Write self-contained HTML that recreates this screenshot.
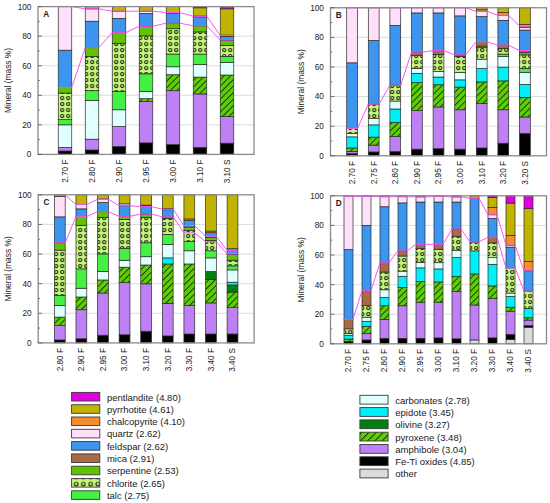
<!DOCTYPE html>
<html><head><meta charset="utf-8"><style>
html,body{margin:0;padding:0;background:#fff;}
body{width:550px;height:503px;overflow:hidden;font-family:"Liberation Sans", sans-serif;}
svg{display:block;}
text{fill:#1a1a1a;}
</style></head><body>
<svg width="550" height="503" viewBox="0 0 550 503" font-family='"Liberation Sans", sans-serif' fill="#000">
<defs>
<pattern id="chl" patternUnits="userSpaceOnUse" width="6" height="6" x="5.25" y="5">
<rect width="6" height="6" fill="#c4f67a"/>
<circle cx="3" cy="3" r="1.6" fill="none" stroke="#1c2410" stroke-width="1.05"/>
</pattern>
<pattern id="chlL" patternUnits="userSpaceOnUse" width="7.2" height="7.2" x="72.6" y="480.5">
<rect width="7.2" height="7.2" fill="#c4f67a"/>
<circle cx="3.6" cy="3.6" r="1.8" fill="none" stroke="#1c2410" stroke-width="1.1"/>
</pattern>
<pattern id="pyx" patternUnits="userSpaceOnUse" width="4.6" height="4.6" patternTransform="rotate(-45)">
<rect width="4.6" height="4.6" fill="#5ccf08"/>
<line x1="0" y1="0.5" x2="4.6" y2="0.5" stroke="#1a3000" stroke-width="0.9"/>
</pattern>
<pattern id="pyxL" patternUnits="userSpaceOnUse" width="5.1" height="5.1" patternTransform="rotate(-45)">
<rect width="5.1" height="5.1" fill="#5ccf08"/>
<line x1="0" y1="0.5" x2="5.1" y2="0.5" stroke="#1a3000" stroke-width="1.0"/>
</pattern>
</defs>
<line x1="38" y1="124.84" x2="254" y2="124.84" stroke="#dcdcdc" stroke-width="1"/>
<line x1="38" y1="95.28" x2="254" y2="95.28" stroke="#dcdcdc" stroke-width="1"/>
<line x1="38" y1="65.72" x2="254" y2="65.72" stroke="#dcdcdc" stroke-width="1"/>
<line x1="38" y1="36.16" x2="254" y2="36.16" stroke="#dcdcdc" stroke-width="1"/>
<rect x="58.25" y="151" width="13.5" height="3.4" fill="#000000" stroke="#2a2a2a" stroke-width="0.7"/>
<rect x="58.25" y="147.45" width="13.5" height="3.55" fill="#bf80f5" stroke="#2a2a2a" stroke-width="0.7"/>
<rect x="58.25" y="124.84" width="13.5" height="22.61" fill="#e0ffff" stroke="#2a2a2a" stroke-width="0.7"/>
<rect x="58.25" y="119.67" width="13.5" height="5.17" fill="#44f044" stroke="#2a2a2a" stroke-width="0.7"/>
<rect x="58.25" y="93.06" width="13.5" height="26.6" fill="url(#chl)" stroke="#2a2a2a" stroke-width="0.7"/>
<rect x="58.25" y="87.45" width="13.5" height="5.62" fill="#60c200" stroke="#2a2a2a" stroke-width="0.7"/>
<rect x="58.25" y="50.2" width="13.5" height="37.25" fill="#3c96f0" stroke="#2a2a2a" stroke-width="0.7"/>
<rect x="58.25" y="6.6" width="13.5" height="43.6" fill="#ffe0fa" stroke="#2a2a2a" stroke-width="0.7"/>
<rect x="85.25" y="149.97" width="13.5" height="4.43" fill="#000000" stroke="#2a2a2a" stroke-width="0.7"/>
<rect x="85.25" y="139.18" width="13.5" height="10.79" fill="#bf80f5" stroke="#2a2a2a" stroke-width="0.7"/>
<rect x="85.25" y="100.6" width="13.5" height="38.58" fill="#e0ffff" stroke="#2a2a2a" stroke-width="0.7"/>
<rect x="85.25" y="90.7" width="13.5" height="9.9" fill="#44f044" stroke="#2a2a2a" stroke-width="0.7"/>
<rect x="85.25" y="56.41" width="13.5" height="34.29" fill="url(#chl)" stroke="#2a2a2a" stroke-width="0.7"/>
<rect x="85.25" y="47.69" width="13.5" height="8.72" fill="#60c200" stroke="#2a2a2a" stroke-width="0.7"/>
<rect x="85.25" y="21.23" width="13.5" height="26.46" fill="#3c96f0" stroke="#2a2a2a" stroke-width="0.7"/>
<rect x="85.25" y="8.82" width="13.5" height="12.42" fill="#ffe0fa" stroke="#2a2a2a" stroke-width="0.7"/>
<rect x="85.25" y="6.6" width="13.5" height="2.22" fill="#c0b400" stroke="#2a2a2a" stroke-width="0.7"/>
<rect x="112.25" y="146.57" width="13.5" height="7.83" fill="#000000" stroke="#2a2a2a" stroke-width="0.7"/>
<rect x="112.25" y="126.47" width="13.5" height="20.1" fill="#bf80f5" stroke="#2a2a2a" stroke-width="0.7"/>
<rect x="112.25" y="109.76" width="13.5" height="16.7" fill="#e0ffff" stroke="#2a2a2a" stroke-width="0.7"/>
<rect x="112.25" y="91.44" width="13.5" height="18.33" fill="#44f044" stroke="#2a2a2a" stroke-width="0.7"/>
<rect x="112.25" y="43.25" width="13.5" height="48.18" fill="url(#chl)" stroke="#2a2a2a" stroke-width="0.7"/>
<rect x="112.25" y="32.61" width="13.5" height="10.64" fill="#60c200" stroke="#2a2a2a" stroke-width="0.7"/>
<rect x="112.25" y="18.42" width="13.5" height="14.19" fill="#3c96f0" stroke="#2a2a2a" stroke-width="0.7"/>
<rect x="112.25" y="11.18" width="13.5" height="7.24" fill="#ffe0fa" stroke="#2a2a2a" stroke-width="0.7"/>
<rect x="112.25" y="6.6" width="13.5" height="4.58" fill="#c0b400" stroke="#2a2a2a" stroke-width="0.7"/>
<rect x="139.25" y="142.87" width="13.5" height="11.53" fill="#000000" stroke="#2a2a2a" stroke-width="0.7"/>
<rect x="139.25" y="101.49" width="13.5" height="41.38" fill="#bf80f5" stroke="#2a2a2a" stroke-width="0.7"/>
<rect x="139.25" y="98.68" width="13.5" height="2.81" fill="url(#pyx)" stroke="#2a2a2a" stroke-width="0.7"/>
<rect x="139.25" y="91.44" width="13.5" height="7.24" fill="#e0ffff" stroke="#2a2a2a" stroke-width="0.7"/>
<rect x="139.25" y="73.85" width="13.5" height="17.59" fill="#44f044" stroke="#2a2a2a" stroke-width="0.7"/>
<rect x="139.25" y="35.86" width="13.5" height="37.98" fill="url(#chl)" stroke="#2a2a2a" stroke-width="0.7"/>
<rect x="139.25" y="26.26" width="13.5" height="9.61" fill="#60c200" stroke="#2a2a2a" stroke-width="0.7"/>
<rect x="139.25" y="13.55" width="13.5" height="12.71" fill="#3c96f0" stroke="#2a2a2a" stroke-width="0.7"/>
<rect x="139.25" y="11.18" width="13.5" height="2.36" fill="#ffe0fa" stroke="#2a2a2a" stroke-width="0.7"/>
<rect x="139.25" y="6.6" width="13.5" height="4.58" fill="#c0b400" stroke="#2a2a2a" stroke-width="0.7"/>
<rect x="166.25" y="144.65" width="13.5" height="9.75" fill="#000000" stroke="#2a2a2a" stroke-width="0.7"/>
<rect x="166.25" y="90.7" width="13.5" height="53.95" fill="#bf80f5" stroke="#2a2a2a" stroke-width="0.7"/>
<rect x="166.25" y="74.74" width="13.5" height="15.96" fill="url(#pyx)" stroke="#2a2a2a" stroke-width="0.7"/>
<rect x="166.25" y="66.75" width="13.5" height="7.98" fill="#e0ffff" stroke="#2a2a2a" stroke-width="0.7"/>
<rect x="166.25" y="54.04" width="13.5" height="12.71" fill="#44f044" stroke="#2a2a2a" stroke-width="0.7"/>
<rect x="166.25" y="28.77" width="13.5" height="25.27" fill="url(#chl)" stroke="#2a2a2a" stroke-width="0.7"/>
<rect x="166.25" y="23.15" width="13.5" height="5.62" fill="#60c200" stroke="#2a2a2a" stroke-width="0.7"/>
<rect x="166.25" y="13.1" width="13.5" height="10.05" fill="#3c96f0" stroke="#2a2a2a" stroke-width="0.7"/>
<rect x="166.25" y="12.51" width="13.5" height="0.59" fill="#ffe0fa" stroke="#2a2a2a" stroke-width="0.7"/>
<rect x="166.25" y="6.6" width="13.5" height="5.91" fill="#c0b400" stroke="#2a2a2a" stroke-width="0.7"/>
<rect x="193.25" y="147.45" width="13.5" height="6.95" fill="#000000" stroke="#2a2a2a" stroke-width="0.7"/>
<rect x="193.25" y="93.95" width="13.5" height="53.5" fill="#bf80f5" stroke="#2a2a2a" stroke-width="0.7"/>
<rect x="193.25" y="77.1" width="13.5" height="16.85" fill="url(#pyx)" stroke="#2a2a2a" stroke-width="0.7"/>
<rect x="193.25" y="64.39" width="13.5" height="12.71" fill="#e0ffff" stroke="#2a2a2a" stroke-width="0.7"/>
<rect x="193.25" y="54.04" width="13.5" height="10.35" fill="#44f044" stroke="#2a2a2a" stroke-width="0.7"/>
<rect x="193.25" y="31.87" width="13.5" height="22.17" fill="url(#chl)" stroke="#2a2a2a" stroke-width="0.7"/>
<rect x="193.25" y="25.81" width="13.5" height="6.06" fill="#60c200" stroke="#2a2a2a" stroke-width="0.7"/>
<rect x="193.25" y="16.8" width="13.5" height="9.02" fill="#3c96f0" stroke="#2a2a2a" stroke-width="0.7"/>
<rect x="193.25" y="16.06" width="13.5" height="0.74" fill="#ffe0fa" stroke="#2a2a2a" stroke-width="0.7"/>
<rect x="193.25" y="7.78" width="13.5" height="8.28" fill="#c0b400" stroke="#2a2a2a" stroke-width="0.7"/>
<rect x="193.25" y="6.6" width="13.5" height="1.18" fill="#e000e0" stroke="#2a2a2a" stroke-width="0.7"/>
<rect x="220.25" y="143.17" width="13.5" height="11.23" fill="#000000" stroke="#2a2a2a" stroke-width="0.7"/>
<rect x="220.25" y="116.56" width="13.5" height="26.6" fill="#bf80f5" stroke="#2a2a2a" stroke-width="0.7"/>
<rect x="220.25" y="75.03" width="13.5" height="41.53" fill="url(#pyx)" stroke="#2a2a2a" stroke-width="0.7"/>
<rect x="220.25" y="62.32" width="13.5" height="12.71" fill="#e0ffff" stroke="#2a2a2a" stroke-width="0.7"/>
<rect x="220.25" y="56.41" width="13.5" height="5.91" fill="#44f044" stroke="#2a2a2a" stroke-width="0.7"/>
<rect x="220.25" y="45.32" width="13.5" height="11.08" fill="url(#chl)" stroke="#2a2a2a" stroke-width="0.7"/>
<rect x="220.25" y="40.3" width="13.5" height="5.03" fill="#60c200" stroke="#2a2a2a" stroke-width="0.7"/>
<rect x="220.25" y="36.6" width="13.5" height="3.7" fill="#3c96f0" stroke="#2a2a2a" stroke-width="0.7"/>
<rect x="220.25" y="35.13" width="13.5" height="1.48" fill="#f88c30" stroke="#2a2a2a" stroke-width="0.7"/>
<rect x="220.25" y="8.82" width="13.5" height="26.31" fill="#c0b400" stroke="#2a2a2a" stroke-width="0.7"/>
<rect x="220.25" y="6.6" width="13.5" height="2.22" fill="#e000e0" stroke="#2a2a2a" stroke-width="0.7"/>
<polyline points="58.25,6.6 71.75,6.6 85.25,8.82 98.75,8.82 112.25,11.18 125.75,11.18 139.25,11.18 152.75,11.18 166.25,12.51 179.75,12.51 193.25,16.35 206.75,16.35 220.25,35.42 233.75,35.42" fill="none" stroke="#ff50ff" stroke-width="1.0"/>
<polyline points="58.25,87.45 71.75,87.45 85.25,47.69 98.75,47.69 112.25,32.61 125.75,32.61 139.25,26.26 152.75,26.26 166.25,23.15 179.75,23.15 193.25,25.81 206.75,25.81 220.25,40 233.75,40" fill="none" stroke="#ff50ff" stroke-width="1.0"/>
<rect x="38" y="6.6" width="216" height="147.8" fill="none" stroke="#8a8a8a" stroke-width="1.3"/>
<line x1="38" y1="154.4" x2="42" y2="154.4" stroke="#555" stroke-width="0.8"/>
<text x="31.4" y="157.3" font-size="8.2" text-anchor="end">0</text>
<line x1="38" y1="139.62" x2="39.8" y2="139.62" stroke="#555" stroke-width="0.8"/>
<line x1="38" y1="124.84" x2="42" y2="124.84" stroke="#555" stroke-width="0.8"/>
<text x="31.4" y="127.74" font-size="8.2" text-anchor="end">20</text>
<line x1="38" y1="110.06" x2="39.8" y2="110.06" stroke="#555" stroke-width="0.8"/>
<line x1="38" y1="95.28" x2="42" y2="95.28" stroke="#555" stroke-width="0.8"/>
<text x="31.4" y="98.18" font-size="8.2" text-anchor="end">40</text>
<line x1="38" y1="80.5" x2="39.8" y2="80.5" stroke="#555" stroke-width="0.8"/>
<line x1="38" y1="65.72" x2="42" y2="65.72" stroke="#555" stroke-width="0.8"/>
<text x="31.4" y="68.62" font-size="8.2" text-anchor="end">60</text>
<line x1="38" y1="50.94" x2="39.8" y2="50.94" stroke="#555" stroke-width="0.8"/>
<line x1="38" y1="36.16" x2="42" y2="36.16" stroke="#555" stroke-width="0.8"/>
<text x="31.4" y="39.06" font-size="8.2" text-anchor="end">80</text>
<line x1="38" y1="21.38" x2="39.8" y2="21.38" stroke="#555" stroke-width="0.8"/>
<line x1="38" y1="6.6" x2="42" y2="6.6" stroke="#555" stroke-width="0.8"/>
<text x="31.4" y="9.5" font-size="8.2" text-anchor="end">100</text>
<text transform="translate(67.9,159.6) rotate(-90)" font-size="8.2" text-anchor="end">2.70 F</text>
<text transform="translate(94.9,159.6) rotate(-90)" font-size="8.2" text-anchor="end">2.80 F</text>
<text transform="translate(121.9,159.6) rotate(-90)" font-size="8.2" text-anchor="end">2.90 F</text>
<text transform="translate(148.9,159.6) rotate(-90)" font-size="8.2" text-anchor="end">2.95 F</text>
<text transform="translate(175.9,159.6) rotate(-90)" font-size="8.2" text-anchor="end">3.00 F</text>
<text transform="translate(202.9,159.6) rotate(-90)" font-size="8.2" text-anchor="end">3.10 F</text>
<text transform="translate(229.9,159.6) rotate(-90)" font-size="8.2" text-anchor="end">3.10 S</text>
<text x="43.2" y="16.9" font-size="8.2" font-weight="bold">A</text>
<text transform="translate(11.1,80.5) rotate(-90)" font-size="8.4" text-anchor="middle">Mineral (mass %)</text>
<line x1="330.5" y1="126.19" x2="546.5" y2="126.19" stroke="#dcdcdc" stroke-width="1"/>
<line x1="330.5" y1="96.58" x2="546.5" y2="96.58" stroke="#dcdcdc" stroke-width="1"/>
<line x1="330.5" y1="66.97" x2="546.5" y2="66.97" stroke="#dcdcdc" stroke-width="1"/>
<line x1="330.5" y1="37.36" x2="546.5" y2="37.36" stroke="#dcdcdc" stroke-width="1"/>
<rect x="346.7" y="153.43" width="10.8" height="2.37" fill="#000000" stroke="#2a2a2a" stroke-width="0.7"/>
<rect x="346.7" y="151.51" width="10.8" height="1.92" fill="#bf80f5" stroke="#2a2a2a" stroke-width="0.7"/>
<rect x="346.7" y="147.95" width="10.8" height="3.55" fill="url(#pyx)" stroke="#2a2a2a" stroke-width="0.7"/>
<rect x="346.7" y="136.85" width="10.8" height="11.1" fill="#00f0f8" stroke="#2a2a2a" stroke-width="0.7"/>
<rect x="346.7" y="133.59" width="10.8" height="3.26" fill="#e0ffff" stroke="#2a2a2a" stroke-width="0.7"/>
<rect x="346.7" y="128.56" width="10.8" height="5.03" fill="url(#chl)" stroke="#2a2a2a" stroke-width="0.7"/>
<rect x="346.7" y="62.82" width="10.8" height="65.73" fill="#3c96f0" stroke="#2a2a2a" stroke-width="0.7"/>
<rect x="346.7" y="7.75" width="10.8" height="55.07" fill="#ffe0fa" stroke="#2a2a2a" stroke-width="0.7"/>
<rect x="368.3" y="151.95" width="10.8" height="3.85" fill="#000000" stroke="#2a2a2a" stroke-width="0.7"/>
<rect x="368.3" y="145.14" width="10.8" height="6.81" fill="#bf80f5" stroke="#2a2a2a" stroke-width="0.7"/>
<rect x="368.3" y="137.15" width="10.8" height="7.99" fill="url(#pyx)" stroke="#2a2a2a" stroke-width="0.7"/>
<rect x="368.3" y="124.86" width="10.8" height="12.29" fill="#00f0f8" stroke="#2a2a2a" stroke-width="0.7"/>
<rect x="368.3" y="118.49" width="10.8" height="6.37" fill="#e0ffff" stroke="#2a2a2a" stroke-width="0.7"/>
<rect x="368.3" y="104.13" width="10.8" height="14.36" fill="url(#chl)" stroke="#2a2a2a" stroke-width="0.7"/>
<rect x="368.3" y="40.47" width="10.8" height="63.66" fill="#3c96f0" stroke="#2a2a2a" stroke-width="0.7"/>
<rect x="368.3" y="7.75" width="10.8" height="32.72" fill="#ffe0fa" stroke="#2a2a2a" stroke-width="0.7"/>
<rect x="389.9" y="151.51" width="10.8" height="4.29" fill="#000000" stroke="#2a2a2a" stroke-width="0.7"/>
<rect x="389.9" y="136.55" width="10.8" height="14.95" fill="#bf80f5" stroke="#2a2a2a" stroke-width="0.7"/>
<rect x="389.9" y="122.49" width="10.8" height="14.06" fill="url(#pyx)" stroke="#2a2a2a" stroke-width="0.7"/>
<rect x="389.9" y="109.02" width="10.8" height="13.47" fill="#00f0f8" stroke="#2a2a2a" stroke-width="0.7"/>
<rect x="389.9" y="101.02" width="10.8" height="7.99" fill="#e0ffff" stroke="#2a2a2a" stroke-width="0.7"/>
<rect x="389.9" y="85.18" width="10.8" height="15.84" fill="url(#chl)" stroke="#2a2a2a" stroke-width="0.7"/>
<rect x="389.9" y="25.37" width="10.8" height="59.81" fill="#3c96f0" stroke="#2a2a2a" stroke-width="0.7"/>
<rect x="389.9" y="7.75" width="10.8" height="17.62" fill="#ffe0fa" stroke="#2a2a2a" stroke-width="0.7"/>
<rect x="411.5" y="149.14" width="10.8" height="6.66" fill="#000000" stroke="#2a2a2a" stroke-width="0.7"/>
<rect x="411.5" y="110.64" width="10.8" height="38.49" fill="#bf80f5" stroke="#2a2a2a" stroke-width="0.7"/>
<rect x="411.5" y="82.52" width="10.8" height="28.13" fill="url(#pyx)" stroke="#2a2a2a" stroke-width="0.7"/>
<rect x="411.5" y="73.34" width="10.8" height="9.18" fill="#00f0f8" stroke="#2a2a2a" stroke-width="0.7"/>
<rect x="411.5" y="68.45" width="10.8" height="4.89" fill="#e0ffff" stroke="#2a2a2a" stroke-width="0.7"/>
<rect x="411.5" y="55.57" width="10.8" height="12.88" fill="url(#chl)" stroke="#2a2a2a" stroke-width="0.7"/>
<rect x="411.5" y="52.17" width="10.8" height="3.41" fill="#a86a48" stroke="#2a2a2a" stroke-width="0.7"/>
<rect x="411.5" y="12.93" width="10.8" height="39.23" fill="#3c96f0" stroke="#2a2a2a" stroke-width="0.7"/>
<rect x="411.5" y="7.75" width="10.8" height="5.18" fill="#ffe0fa" stroke="#2a2a2a" stroke-width="0.7"/>
<rect x="433.1" y="148.69" width="10.8" height="7.11" fill="#000000" stroke="#2a2a2a" stroke-width="0.7"/>
<rect x="433.1" y="106.94" width="10.8" height="41.75" fill="#bf80f5" stroke="#2a2a2a" stroke-width="0.7"/>
<rect x="433.1" y="84.74" width="10.8" height="22.21" fill="url(#pyx)" stroke="#2a2a2a" stroke-width="0.7"/>
<rect x="433.1" y="77.04" width="10.8" height="7.7" fill="#00f0f8" stroke="#2a2a2a" stroke-width="0.7"/>
<rect x="433.1" y="71.41" width="10.8" height="5.63" fill="#e0ffff" stroke="#2a2a2a" stroke-width="0.7"/>
<rect x="433.1" y="54.39" width="10.8" height="17.03" fill="url(#chl)" stroke="#2a2a2a" stroke-width="0.7"/>
<rect x="433.1" y="50.68" width="10.8" height="3.7" fill="#a86a48" stroke="#2a2a2a" stroke-width="0.7"/>
<rect x="433.1" y="12.93" width="10.8" height="37.75" fill="#3c96f0" stroke="#2a2a2a" stroke-width="0.7"/>
<rect x="433.1" y="7.75" width="10.8" height="5.18" fill="#ffe0fa" stroke="#2a2a2a" stroke-width="0.7"/>
<rect x="454.7" y="149.14" width="10.8" height="6.66" fill="#000000" stroke="#2a2a2a" stroke-width="0.7"/>
<rect x="454.7" y="109.76" width="10.8" height="39.38" fill="#bf80f5" stroke="#2a2a2a" stroke-width="0.7"/>
<rect x="454.7" y="87.1" width="10.8" height="22.65" fill="url(#pyx)" stroke="#2a2a2a" stroke-width="0.7"/>
<rect x="454.7" y="79.85" width="10.8" height="7.25" fill="#00f0f8" stroke="#2a2a2a" stroke-width="0.7"/>
<rect x="454.7" y="72.3" width="10.8" height="7.55" fill="#e0ffff" stroke="#2a2a2a" stroke-width="0.7"/>
<rect x="454.7" y="56.46" width="10.8" height="15.84" fill="url(#chl)" stroke="#2a2a2a" stroke-width="0.7"/>
<rect x="454.7" y="54.83" width="10.8" height="1.63" fill="#a86a48" stroke="#2a2a2a" stroke-width="0.7"/>
<rect x="454.7" y="15.89" width="10.8" height="38.94" fill="#3c96f0" stroke="#2a2a2a" stroke-width="0.7"/>
<rect x="454.7" y="7.75" width="10.8" height="8.14" fill="#ffe0fa" stroke="#2a2a2a" stroke-width="0.7"/>
<rect x="476.3" y="147.95" width="10.8" height="7.85" fill="#000000" stroke="#2a2a2a" stroke-width="0.7"/>
<rect x="476.3" y="103.39" width="10.8" height="44.56" fill="#bf80f5" stroke="#2a2a2a" stroke-width="0.7"/>
<rect x="476.3" y="81.92" width="10.8" height="21.47" fill="url(#pyx)" stroke="#2a2a2a" stroke-width="0.7"/>
<rect x="476.3" y="68.6" width="10.8" height="13.32" fill="#00f0f8" stroke="#2a2a2a" stroke-width="0.7"/>
<rect x="476.3" y="59.12" width="10.8" height="9.48" fill="#e0ffff" stroke="#2a2a2a" stroke-width="0.7"/>
<rect x="476.3" y="47.72" width="10.8" height="11.4" fill="url(#chl)" stroke="#2a2a2a" stroke-width="0.7"/>
<rect x="476.3" y="46.09" width="10.8" height="1.63" fill="#60c200" stroke="#2a2a2a" stroke-width="0.7"/>
<rect x="476.3" y="41.65" width="10.8" height="4.44" fill="#a86a48" stroke="#2a2a2a" stroke-width="0.7"/>
<rect x="476.3" y="16.63" width="10.8" height="25.02" fill="#3c96f0" stroke="#2a2a2a" stroke-width="0.7"/>
<rect x="476.3" y="11.45" width="10.8" height="5.18" fill="#ffe0fa" stroke="#2a2a2a" stroke-width="0.7"/>
<rect x="476.3" y="9.82" width="10.8" height="1.63" fill="#f88c30" stroke="#2a2a2a" stroke-width="0.7"/>
<rect x="476.3" y="7.75" width="10.8" height="2.07" fill="#c0b400" stroke="#2a2a2a" stroke-width="0.7"/>
<rect x="497.9" y="143.22" width="10.8" height="12.58" fill="#000000" stroke="#2a2a2a" stroke-width="0.7"/>
<rect x="497.9" y="109.76" width="10.8" height="33.46" fill="#bf80f5" stroke="#2a2a2a" stroke-width="0.7"/>
<rect x="497.9" y="80.89" width="10.8" height="28.87" fill="url(#pyx)" stroke="#2a2a2a" stroke-width="0.7"/>
<rect x="497.9" y="67.12" width="10.8" height="13.77" fill="#00f0f8" stroke="#2a2a2a" stroke-width="0.7"/>
<rect x="497.9" y="56.46" width="10.8" height="10.66" fill="#e0ffff" stroke="#2a2a2a" stroke-width="0.7"/>
<rect x="497.9" y="54.09" width="10.8" height="2.37" fill="#44f044" stroke="#2a2a2a" stroke-width="0.7"/>
<rect x="497.9" y="48.46" width="10.8" height="5.63" fill="url(#chl)" stroke="#2a2a2a" stroke-width="0.7"/>
<rect x="497.9" y="45.21" width="10.8" height="3.26" fill="#a86a48" stroke="#2a2a2a" stroke-width="0.7"/>
<rect x="497.9" y="20.33" width="10.8" height="24.87" fill="#3c96f0" stroke="#2a2a2a" stroke-width="0.7"/>
<rect x="497.9" y="15.3" width="10.8" height="5.03" fill="#ffe0fa" stroke="#2a2a2a" stroke-width="0.7"/>
<rect x="497.9" y="12.64" width="10.8" height="2.66" fill="#f88c30" stroke="#2a2a2a" stroke-width="0.7"/>
<rect x="497.9" y="7.75" width="10.8" height="4.89" fill="#c0b400" stroke="#2a2a2a" stroke-width="0.7"/>
<rect x="519.5" y="133.3" width="10.8" height="22.5" fill="#000000" stroke="#2a2a2a" stroke-width="0.7"/>
<rect x="519.5" y="117.01" width="10.8" height="16.29" fill="#bf80f5" stroke="#2a2a2a" stroke-width="0.7"/>
<rect x="519.5" y="97.32" width="10.8" height="19.69" fill="url(#pyx)" stroke="#2a2a2a" stroke-width="0.7"/>
<rect x="519.5" y="84.44" width="10.8" height="12.88" fill="#00f0f8" stroke="#2a2a2a" stroke-width="0.7"/>
<rect x="519.5" y="72.3" width="10.8" height="12.14" fill="#e0ffff" stroke="#2a2a2a" stroke-width="0.7"/>
<rect x="519.5" y="68.45" width="10.8" height="3.85" fill="#44f044" stroke="#2a2a2a" stroke-width="0.7"/>
<rect x="519.5" y="54.83" width="10.8" height="13.62" fill="url(#chl)" stroke="#2a2a2a" stroke-width="0.7"/>
<rect x="519.5" y="52.46" width="10.8" height="2.37" fill="#60c200" stroke="#2a2a2a" stroke-width="0.7"/>
<rect x="519.5" y="50.54" width="10.8" height="1.92" fill="#a86a48" stroke="#2a2a2a" stroke-width="0.7"/>
<rect x="519.5" y="30.11" width="10.8" height="20.43" fill="#3c96f0" stroke="#2a2a2a" stroke-width="0.7"/>
<rect x="519.5" y="27.29" width="10.8" height="2.81" fill="#ffe0fa" stroke="#2a2a2a" stroke-width="0.7"/>
<rect x="519.5" y="24.63" width="10.8" height="2.66" fill="#f88c30" stroke="#2a2a2a" stroke-width="0.7"/>
<rect x="519.5" y="7.75" width="10.8" height="16.88" fill="#c0b400" stroke="#2a2a2a" stroke-width="0.7"/>
<polyline points="346.7,7.75 357.5,7.75 368.3,7.75 379.1,7.75 389.9,7.75 400.7,7.75 411.5,7.75 422.3,7.75 433.1,7.75 443.9,7.75 454.7,7.75 465.5,7.75 476.3,11.45 487.1,11.45 497.9,15.3 508.7,15.3 519.5,26.11 530.3,26.11" fill="none" stroke="#ff50ff" stroke-width="1.0"/>
<polyline points="346.7,128.56 357.5,128.56 368.3,104.13 379.1,104.13 389.9,85.18 400.7,85.18 411.5,52.17 422.3,52.17 433.1,50.68 443.9,50.68 454.7,54.83 465.5,54.83 476.3,41.65 487.1,41.65 497.9,45.21 508.7,45.21 519.5,50.54 530.3,50.54" fill="none" stroke="#ff50ff" stroke-width="1.0"/>
<rect x="330.5" y="7.75" width="216" height="148.05" fill="none" stroke="#8a8a8a" stroke-width="1.3"/>
<line x1="330.5" y1="155.8" x2="334.5" y2="155.8" stroke="#555" stroke-width="0.8"/>
<text x="323.9" y="158.7" font-size="8.2" text-anchor="end">0</text>
<line x1="330.5" y1="141" x2="332.3" y2="141" stroke="#555" stroke-width="0.8"/>
<line x1="330.5" y1="126.19" x2="334.5" y2="126.19" stroke="#555" stroke-width="0.8"/>
<text x="323.9" y="129.09" font-size="8.2" text-anchor="end">20</text>
<line x1="330.5" y1="111.39" x2="332.3" y2="111.39" stroke="#555" stroke-width="0.8"/>
<line x1="330.5" y1="96.58" x2="334.5" y2="96.58" stroke="#555" stroke-width="0.8"/>
<text x="323.9" y="99.48" font-size="8.2" text-anchor="end">40</text>
<line x1="330.5" y1="81.78" x2="332.3" y2="81.78" stroke="#555" stroke-width="0.8"/>
<line x1="330.5" y1="66.97" x2="334.5" y2="66.97" stroke="#555" stroke-width="0.8"/>
<text x="323.9" y="69.87" font-size="8.2" text-anchor="end">60</text>
<line x1="330.5" y1="52.17" x2="332.3" y2="52.17" stroke="#555" stroke-width="0.8"/>
<line x1="330.5" y1="37.36" x2="334.5" y2="37.36" stroke="#555" stroke-width="0.8"/>
<text x="323.9" y="40.26" font-size="8.2" text-anchor="end">80</text>
<line x1="330.5" y1="22.56" x2="332.3" y2="22.56" stroke="#555" stroke-width="0.8"/>
<line x1="330.5" y1="7.75" x2="334.5" y2="7.75" stroke="#555" stroke-width="0.8"/>
<text x="323.9" y="10.65" font-size="8.2" text-anchor="end">100</text>
<text transform="translate(355,161) rotate(-90)" font-size="8.2" text-anchor="end">2.70 F</text>
<text transform="translate(376.6,161) rotate(-90)" font-size="8.2" text-anchor="end">2.75 F</text>
<text transform="translate(398.2,161) rotate(-90)" font-size="8.2" text-anchor="end">2.80 F</text>
<text transform="translate(419.8,161) rotate(-90)" font-size="8.2" text-anchor="end">2.90 F</text>
<text transform="translate(441.4,161) rotate(-90)" font-size="8.2" text-anchor="end">2.95 F</text>
<text transform="translate(463,161) rotate(-90)" font-size="8.2" text-anchor="end">3.00 F</text>
<text transform="translate(484.6,161) rotate(-90)" font-size="8.2" text-anchor="end">3.10 F</text>
<text transform="translate(506.2,161) rotate(-90)" font-size="8.2" text-anchor="end">3.20 F</text>
<text transform="translate(527.8,161) rotate(-90)" font-size="8.2" text-anchor="end">3.20 S</text>
<text x="335.7" y="18.05" font-size="8.2" font-weight="bold">B</text>
<text transform="translate(303.6,81.78) rotate(-90)" font-size="8.4" text-anchor="middle">Mineral (mass %)</text>
<line x1="38.2" y1="313.28" x2="254.1" y2="313.28" stroke="#dcdcdc" stroke-width="1"/>
<line x1="38.2" y1="283.66" x2="254.1" y2="283.66" stroke="#dcdcdc" stroke-width="1"/>
<line x1="38.2" y1="254.04" x2="254.1" y2="254.04" stroke="#dcdcdc" stroke-width="1"/>
<line x1="38.2" y1="224.42" x2="254.1" y2="224.42" stroke="#dcdcdc" stroke-width="1"/>
<rect x="54.39" y="339.94" width="10.8" height="2.96" fill="#000000" stroke="#2a2a2a" stroke-width="0.7"/>
<rect x="54.39" y="325.57" width="10.8" height="14.37" fill="#bf80f5" stroke="#2a2a2a" stroke-width="0.7"/>
<rect x="54.39" y="317.13" width="10.8" height="8.44" fill="url(#pyx)" stroke="#2a2a2a" stroke-width="0.7"/>
<rect x="54.39" y="305.43" width="10.8" height="11.7" fill="#e0ffff" stroke="#2a2a2a" stroke-width="0.7"/>
<rect x="54.39" y="295.36" width="10.8" height="10.07" fill="#44f044" stroke="#2a2a2a" stroke-width="0.7"/>
<rect x="54.39" y="250.19" width="10.8" height="45.17" fill="url(#chl)" stroke="#2a2a2a" stroke-width="0.7"/>
<rect x="54.39" y="242.78" width="10.8" height="7.4" fill="#60c200" stroke="#2a2a2a" stroke-width="0.7"/>
<rect x="54.39" y="216.87" width="10.8" height="25.92" fill="#3c96f0" stroke="#2a2a2a" stroke-width="0.7"/>
<rect x="54.39" y="196.28" width="10.8" height="20.59" fill="#ffe0fa" stroke="#2a2a2a" stroke-width="0.7"/>
<rect x="54.39" y="194.8" width="10.8" height="1.48" fill="#c0b400" stroke="#2a2a2a" stroke-width="0.7"/>
<rect x="75.98" y="338.75" width="10.8" height="4.15" fill="#000000" stroke="#2a2a2a" stroke-width="0.7"/>
<rect x="75.98" y="309.73" width="10.8" height="29.03" fill="#bf80f5" stroke="#2a2a2a" stroke-width="0.7"/>
<rect x="75.98" y="296.99" width="10.8" height="12.74" fill="url(#pyx)" stroke="#2a2a2a" stroke-width="0.7"/>
<rect x="75.98" y="288.25" width="10.8" height="8.74" fill="#e0ffff" stroke="#2a2a2a" stroke-width="0.7"/>
<rect x="75.98" y="268.85" width="10.8" height="19.4" fill="#44f044" stroke="#2a2a2a" stroke-width="0.7"/>
<rect x="75.98" y="225.31" width="10.8" height="43.54" fill="url(#chl)" stroke="#2a2a2a" stroke-width="0.7"/>
<rect x="75.98" y="216.57" width="10.8" height="8.74" fill="#60c200" stroke="#2a2a2a" stroke-width="0.7"/>
<rect x="75.98" y="208.87" width="10.8" height="7.7" fill="#3c96f0" stroke="#2a2a2a" stroke-width="0.7"/>
<rect x="75.98" y="204.57" width="10.8" height="4.29" fill="#ffe0fa" stroke="#2a2a2a" stroke-width="0.7"/>
<rect x="75.98" y="194.8" width="10.8" height="9.77" fill="#c0b400" stroke="#2a2a2a" stroke-width="0.7"/>
<rect x="97.57" y="335.2" width="10.8" height="7.7" fill="#000000" stroke="#2a2a2a" stroke-width="0.7"/>
<rect x="97.57" y="292.99" width="10.8" height="42.21" fill="#bf80f5" stroke="#2a2a2a" stroke-width="0.7"/>
<rect x="97.57" y="279.96" width="10.8" height="13.03" fill="url(#pyx)" stroke="#2a2a2a" stroke-width="0.7"/>
<rect x="97.57" y="271.52" width="10.8" height="8.44" fill="#e0ffff" stroke="#2a2a2a" stroke-width="0.7"/>
<rect x="97.57" y="253.89" width="10.8" height="17.62" fill="#44f044" stroke="#2a2a2a" stroke-width="0.7"/>
<rect x="97.57" y="217.31" width="10.8" height="36.58" fill="url(#chl)" stroke="#2a2a2a" stroke-width="0.7"/>
<rect x="97.57" y="211.68" width="10.8" height="5.63" fill="#60c200" stroke="#2a2a2a" stroke-width="0.7"/>
<rect x="97.57" y="202.5" width="10.8" height="9.18" fill="#3c96f0" stroke="#2a2a2a" stroke-width="0.7"/>
<rect x="97.57" y="198.95" width="10.8" height="3.55" fill="#ffe0fa" stroke="#2a2a2a" stroke-width="0.7"/>
<rect x="97.57" y="194.8" width="10.8" height="4.15" fill="#c0b400" stroke="#2a2a2a" stroke-width="0.7"/>
<rect x="119.16" y="334.75" width="10.8" height="8.15" fill="#000000" stroke="#2a2a2a" stroke-width="0.7"/>
<rect x="119.16" y="282.62" width="10.8" height="52.13" fill="#bf80f5" stroke="#2a2a2a" stroke-width="0.7"/>
<rect x="119.16" y="267.22" width="10.8" height="15.4" fill="url(#pyx)" stroke="#2a2a2a" stroke-width="0.7"/>
<rect x="119.16" y="260.26" width="10.8" height="6.96" fill="#e0ffff" stroke="#2a2a2a" stroke-width="0.7"/>
<rect x="119.16" y="248.26" width="10.8" height="12" fill="#44f044" stroke="#2a2a2a" stroke-width="0.7"/>
<rect x="119.16" y="219.38" width="10.8" height="28.88" fill="url(#chl)" stroke="#2a2a2a" stroke-width="0.7"/>
<rect x="119.16" y="216.27" width="10.8" height="3.11" fill="#60c200" stroke="#2a2a2a" stroke-width="0.7"/>
<rect x="119.16" y="205.76" width="10.8" height="10.52" fill="#3c96f0" stroke="#2a2a2a" stroke-width="0.7"/>
<rect x="119.16" y="203.83" width="10.8" height="1.93" fill="#ffe0fa" stroke="#2a2a2a" stroke-width="0.7"/>
<rect x="119.16" y="194.8" width="10.8" height="9.03" fill="#c0b400" stroke="#2a2a2a" stroke-width="0.7"/>
<rect x="140.75" y="331.2" width="10.8" height="11.7" fill="#000000" stroke="#2a2a2a" stroke-width="0.7"/>
<rect x="140.75" y="283.81" width="10.8" height="47.39" fill="#bf80f5" stroke="#2a2a2a" stroke-width="0.7"/>
<rect x="140.75" y="265" width="10.8" height="18.81" fill="url(#pyx)" stroke="#2a2a2a" stroke-width="0.7"/>
<rect x="140.75" y="256.71" width="10.8" height="8.29" fill="#e0ffff" stroke="#2a2a2a" stroke-width="0.7"/>
<rect x="140.75" y="242.78" width="10.8" height="13.92" fill="#44f044" stroke="#2a2a2a" stroke-width="0.7"/>
<rect x="140.75" y="217.31" width="10.8" height="25.47" fill="url(#chl)" stroke="#2a2a2a" stroke-width="0.7"/>
<rect x="140.75" y="214.05" width="10.8" height="3.26" fill="#60c200" stroke="#2a2a2a" stroke-width="0.7"/>
<rect x="140.75" y="205.76" width="10.8" height="8.29" fill="#3c96f0" stroke="#2a2a2a" stroke-width="0.7"/>
<rect x="140.75" y="205.17" width="10.8" height="0.59" fill="#ffe0fa" stroke="#2a2a2a" stroke-width="0.7"/>
<rect x="140.75" y="194.8" width="10.8" height="10.37" fill="#c0b400" stroke="#2a2a2a" stroke-width="0.7"/>
<rect x="162.34" y="335.94" width="10.8" height="6.96" fill="#000000" stroke="#2a2a2a" stroke-width="0.7"/>
<rect x="162.34" y="303.36" width="10.8" height="32.58" fill="#bf80f5" stroke="#2a2a2a" stroke-width="0.7"/>
<rect x="162.34" y="263.96" width="10.8" height="39.39" fill="url(#pyx)" stroke="#2a2a2a" stroke-width="0.7"/>
<rect x="162.34" y="257.89" width="10.8" height="6.07" fill="#00f0f8" stroke="#2a2a2a" stroke-width="0.7"/>
<rect x="162.34" y="244.41" width="10.8" height="13.48" fill="#e0ffff" stroke="#2a2a2a" stroke-width="0.7"/>
<rect x="162.34" y="234.34" width="10.8" height="10.07" fill="#44f044" stroke="#2a2a2a" stroke-width="0.7"/>
<rect x="162.34" y="218.5" width="10.8" height="15.85" fill="url(#chl)" stroke="#2a2a2a" stroke-width="0.7"/>
<rect x="162.34" y="216.87" width="10.8" height="1.63" fill="#60c200" stroke="#2a2a2a" stroke-width="0.7"/>
<rect x="162.34" y="209.76" width="10.8" height="7.11" fill="#3c96f0" stroke="#2a2a2a" stroke-width="0.7"/>
<rect x="162.34" y="208.57" width="10.8" height="1.18" fill="#ffe0fa" stroke="#2a2a2a" stroke-width="0.7"/>
<rect x="162.34" y="194.8" width="10.8" height="13.77" fill="#c0b400" stroke="#2a2a2a" stroke-width="0.7"/>
<rect x="183.93" y="334.01" width="10.8" height="8.89" fill="#000000" stroke="#2a2a2a" stroke-width="0.7"/>
<rect x="183.93" y="305.43" width="10.8" height="28.58" fill="#bf80f5" stroke="#2a2a2a" stroke-width="0.7"/>
<rect x="183.93" y="263.96" width="10.8" height="41.47" fill="url(#pyx)" stroke="#2a2a2a" stroke-width="0.7"/>
<rect x="183.93" y="250.78" width="10.8" height="13.18" fill="#e0ffff" stroke="#2a2a2a" stroke-width="0.7"/>
<rect x="183.93" y="241.6" width="10.8" height="9.18" fill="#44f044" stroke="#2a2a2a" stroke-width="0.7"/>
<rect x="183.93" y="230.49" width="10.8" height="11.11" fill="url(#chl)" stroke="#2a2a2a" stroke-width="0.7"/>
<rect x="183.93" y="226.94" width="10.8" height="3.55" fill="#60c200" stroke="#2a2a2a" stroke-width="0.7"/>
<rect x="183.93" y="220.57" width="10.8" height="6.37" fill="#3c96f0" stroke="#2a2a2a" stroke-width="0.7"/>
<rect x="183.93" y="218.94" width="10.8" height="1.63" fill="#f88c30" stroke="#2a2a2a" stroke-width="0.7"/>
<rect x="183.93" y="194.8" width="10.8" height="24.14" fill="#c0b400" stroke="#2a2a2a" stroke-width="0.7"/>
<rect x="205.52" y="334.01" width="10.8" height="8.89" fill="#000000" stroke="#2a2a2a" stroke-width="0.7"/>
<rect x="205.52" y="302.91" width="10.8" height="31.1" fill="#bf80f5" stroke="#2a2a2a" stroke-width="0.7"/>
<rect x="205.52" y="279.51" width="10.8" height="23.4" fill="url(#pyx)" stroke="#2a2a2a" stroke-width="0.7"/>
<rect x="205.52" y="271.52" width="10.8" height="8" fill="#008010" stroke="#2a2a2a" stroke-width="0.7"/>
<rect x="205.52" y="257.89" width="10.8" height="13.63" fill="#e0ffff" stroke="#2a2a2a" stroke-width="0.7"/>
<rect x="205.52" y="250.78" width="10.8" height="7.11" fill="#44f044" stroke="#2a2a2a" stroke-width="0.7"/>
<rect x="205.52" y="240.41" width="10.8" height="10.37" fill="url(#chl)" stroke="#2a2a2a" stroke-width="0.7"/>
<rect x="205.52" y="237.6" width="10.8" height="2.81" fill="#60c200" stroke="#2a2a2a" stroke-width="0.7"/>
<rect x="205.52" y="232.71" width="10.8" height="4.89" fill="#3c96f0" stroke="#2a2a2a" stroke-width="0.7"/>
<rect x="205.52" y="231.08" width="10.8" height="1.63" fill="#f88c30" stroke="#2a2a2a" stroke-width="0.7"/>
<rect x="205.52" y="194.8" width="10.8" height="36.28" fill="#c0b400" stroke="#2a2a2a" stroke-width="0.7"/>
<rect x="227.11" y="334.01" width="10.8" height="8.89" fill="#000000" stroke="#2a2a2a" stroke-width="0.7"/>
<rect x="227.11" y="307.65" width="10.8" height="26.36" fill="#bf80f5" stroke="#2a2a2a" stroke-width="0.7"/>
<rect x="227.11" y="292.1" width="10.8" height="15.55" fill="url(#pyx)" stroke="#2a2a2a" stroke-width="0.7"/>
<rect x="227.11" y="284.99" width="10.8" height="7.11" fill="#008010" stroke="#2a2a2a" stroke-width="0.7"/>
<rect x="227.11" y="282.18" width="10.8" height="2.81" fill="#00f0f8" stroke="#2a2a2a" stroke-width="0.7"/>
<rect x="227.11" y="269.89" width="10.8" height="12.29" fill="#e0ffff" stroke="#2a2a2a" stroke-width="0.7"/>
<rect x="227.11" y="265.89" width="10.8" height="4" fill="#44f044" stroke="#2a2a2a" stroke-width="0.7"/>
<rect x="227.11" y="260.26" width="10.8" height="5.63" fill="url(#chl)" stroke="#2a2a2a" stroke-width="0.7"/>
<rect x="227.11" y="254.48" width="10.8" height="5.78" fill="#60c200" stroke="#2a2a2a" stroke-width="0.7"/>
<rect x="227.11" y="250.19" width="10.8" height="4.29" fill="#3c96f0" stroke="#2a2a2a" stroke-width="0.7"/>
<rect x="227.11" y="248.71" width="10.8" height="1.48" fill="#f88c30" stroke="#2a2a2a" stroke-width="0.7"/>
<rect x="227.11" y="194.8" width="10.8" height="53.91" fill="#c0b400" stroke="#2a2a2a" stroke-width="0.7"/>
<polyline points="54.39,195.1 65.19,195.1 75.98,204.57 86.78,204.57 97.57,199.24 108.37,199.24 119.16,205.76 129.96,205.76 140.75,206.65 151.55,206.65 162.34,209.17 173.14,209.17 183.93,225.75 194.73,225.75 205.52,236.27 216.32,236.27 227.11,250.63 237.91,250.63" fill="none" stroke="#ff50ff" stroke-width="1.0"/>
<polyline points="54.39,242.78 65.19,242.78 75.98,216.57 86.78,216.57 97.57,211.68 108.37,211.68 119.16,216.27 129.96,216.27 140.75,214.05 151.55,214.05 162.34,216.87 173.14,216.87 183.93,232.86 194.73,232.86 205.52,241.75 216.32,241.75 227.11,253.89 237.91,253.89" fill="none" stroke="#ff50ff" stroke-width="1.0"/>
<rect x="38.2" y="194.8" width="215.9" height="148.1" fill="none" stroke="#8a8a8a" stroke-width="1.3"/>
<line x1="38.2" y1="342.9" x2="42.2" y2="342.9" stroke="#555" stroke-width="0.8"/>
<text x="31.6" y="345.8" font-size="8.2" text-anchor="end">0</text>
<line x1="38.2" y1="328.09" x2="40" y2="328.09" stroke="#555" stroke-width="0.8"/>
<line x1="38.2" y1="313.28" x2="42.2" y2="313.28" stroke="#555" stroke-width="0.8"/>
<text x="31.6" y="316.18" font-size="8.2" text-anchor="end">20</text>
<line x1="38.2" y1="298.47" x2="40" y2="298.47" stroke="#555" stroke-width="0.8"/>
<line x1="38.2" y1="283.66" x2="42.2" y2="283.66" stroke="#555" stroke-width="0.8"/>
<text x="31.6" y="286.56" font-size="8.2" text-anchor="end">40</text>
<line x1="38.2" y1="268.85" x2="40" y2="268.85" stroke="#555" stroke-width="0.8"/>
<line x1="38.2" y1="254.04" x2="42.2" y2="254.04" stroke="#555" stroke-width="0.8"/>
<text x="31.6" y="256.94" font-size="8.2" text-anchor="end">60</text>
<line x1="38.2" y1="239.23" x2="40" y2="239.23" stroke="#555" stroke-width="0.8"/>
<line x1="38.2" y1="224.42" x2="42.2" y2="224.42" stroke="#555" stroke-width="0.8"/>
<text x="31.6" y="227.32" font-size="8.2" text-anchor="end">80</text>
<line x1="38.2" y1="209.61" x2="40" y2="209.61" stroke="#555" stroke-width="0.8"/>
<line x1="38.2" y1="194.8" x2="42.2" y2="194.8" stroke="#555" stroke-width="0.8"/>
<text x="31.6" y="197.7" font-size="8.2" text-anchor="end">100</text>
<text transform="translate(62.69,348.1) rotate(-90)" font-size="8.2" text-anchor="end">2.80 F</text>
<text transform="translate(84.28,348.1) rotate(-90)" font-size="8.2" text-anchor="end">2.90 F</text>
<text transform="translate(105.87,348.1) rotate(-90)" font-size="8.2" text-anchor="end">2.95 F</text>
<text transform="translate(127.46,348.1) rotate(-90)" font-size="8.2" text-anchor="end">3.00 F</text>
<text transform="translate(149.05,348.1) rotate(-90)" font-size="8.2" text-anchor="end">3.10 F</text>
<text transform="translate(170.64,348.1) rotate(-90)" font-size="8.2" text-anchor="end">3.20 F</text>
<text transform="translate(192.23,348.1) rotate(-90)" font-size="8.2" text-anchor="end">3.30 F</text>
<text transform="translate(213.82,348.1) rotate(-90)" font-size="8.2" text-anchor="end">3.40 F</text>
<text transform="translate(235.41,348.1) rotate(-90)" font-size="8.2" text-anchor="end">3.40 S</text>
<text x="43.4" y="205.1" font-size="8.2" font-weight="bold">C</text>
<text transform="translate(11.3,268.85) rotate(-90)" font-size="8.4" text-anchor="middle">Mineral (mass %)</text>
<line x1="330.5" y1="314.2" x2="546.5" y2="314.2" stroke="#dcdcdc" stroke-width="1"/>
<line x1="330.5" y1="284.6" x2="546.5" y2="284.6" stroke="#dcdcdc" stroke-width="1"/>
<line x1="330.5" y1="255" x2="546.5" y2="255" stroke="#dcdcdc" stroke-width="1"/>
<line x1="330.5" y1="225.4" x2="546.5" y2="225.4" stroke="#dcdcdc" stroke-width="1"/>
<rect x="344" y="341.43" width="9" height="2.37" fill="#000000" stroke="#2a2a2a" stroke-width="0.7"/>
<rect x="344" y="339.06" width="9" height="2.37" fill="url(#pyx)" stroke="#2a2a2a" stroke-width="0.7"/>
<rect x="344" y="335.22" width="9" height="3.85" fill="#00f0f8" stroke="#2a2a2a" stroke-width="0.7"/>
<rect x="344" y="333.59" width="9" height="1.63" fill="#e0ffff" stroke="#2a2a2a" stroke-width="0.7"/>
<rect x="344" y="328.85" width="9" height="4.74" fill="url(#chl)" stroke="#2a2a2a" stroke-width="0.7"/>
<rect x="344" y="319.38" width="9" height="9.47" fill="#a86a48" stroke="#2a2a2a" stroke-width="0.7"/>
<rect x="344" y="249.67" width="9" height="69.71" fill="#3c96f0" stroke="#2a2a2a" stroke-width="0.7"/>
<rect x="344" y="195.8" width="9" height="53.87" fill="#ffe0fa" stroke="#2a2a2a" stroke-width="0.7"/>
<rect x="362" y="339.95" width="9" height="3.85" fill="#000000" stroke="#2a2a2a" stroke-width="0.7"/>
<rect x="362" y="333.59" width="9" height="6.36" fill="#bf80f5" stroke="#2a2a2a" stroke-width="0.7"/>
<rect x="362" y="326.34" width="9" height="7.25" fill="url(#pyx)" stroke="#2a2a2a" stroke-width="0.7"/>
<rect x="362" y="321.3" width="9" height="5.03" fill="#00f0f8" stroke="#2a2a2a" stroke-width="0.7"/>
<rect x="362" y="317.16" width="9" height="4.14" fill="#e0ffff" stroke="#2a2a2a" stroke-width="0.7"/>
<rect x="362" y="305.47" width="9" height="11.69" fill="url(#chl)" stroke="#2a2a2a" stroke-width="0.7"/>
<rect x="362" y="290.67" width="9" height="14.8" fill="#a86a48" stroke="#2a2a2a" stroke-width="0.7"/>
<rect x="362" y="225.4" width="9" height="65.27" fill="#3c96f0" stroke="#2a2a2a" stroke-width="0.7"/>
<rect x="362" y="195.8" width="9" height="29.6" fill="#ffe0fa" stroke="#2a2a2a" stroke-width="0.7"/>
<rect x="380" y="338.32" width="9" height="5.48" fill="#000000" stroke="#2a2a2a" stroke-width="0.7"/>
<rect x="380" y="319.38" width="9" height="18.94" fill="#bf80f5" stroke="#2a2a2a" stroke-width="0.7"/>
<rect x="380" y="305.76" width="9" height="13.62" fill="url(#pyx)" stroke="#2a2a2a" stroke-width="0.7"/>
<rect x="380" y="297.48" width="9" height="8.29" fill="#00f0f8" stroke="#2a2a2a" stroke-width="0.7"/>
<rect x="380" y="289.78" width="9" height="7.7" fill="#e0ffff" stroke="#2a2a2a" stroke-width="0.7"/>
<rect x="380" y="272.02" width="9" height="17.76" fill="url(#chl)" stroke="#2a2a2a" stroke-width="0.7"/>
<rect x="380" y="262.7" width="9" height="9.32" fill="#a86a48" stroke="#2a2a2a" stroke-width="0.7"/>
<rect x="380" y="206.75" width="9" height="55.94" fill="#3c96f0" stroke="#2a2a2a" stroke-width="0.7"/>
<rect x="380" y="196.69" width="9" height="10.06" fill="#ffe0fa" stroke="#2a2a2a" stroke-width="0.7"/>
<rect x="380" y="195.8" width="9" height="0.89" fill="#c0b400" stroke="#2a2a2a" stroke-width="0.7"/>
<rect x="398" y="338.32" width="9" height="5.48" fill="#000000" stroke="#2a2a2a" stroke-width="0.7"/>
<rect x="398" y="305.76" width="9" height="32.56" fill="#bf80f5" stroke="#2a2a2a" stroke-width="0.7"/>
<rect x="398" y="287.56" width="9" height="18.2" fill="url(#pyx)" stroke="#2a2a2a" stroke-width="0.7"/>
<rect x="398" y="276.31" width="9" height="11.25" fill="#00f0f8" stroke="#2a2a2a" stroke-width="0.7"/>
<rect x="398" y="271.13" width="9" height="5.18" fill="#e0ffff" stroke="#2a2a2a" stroke-width="0.7"/>
<rect x="398" y="256.04" width="9" height="15.1" fill="url(#chl)" stroke="#2a2a2a" stroke-width="0.7"/>
<rect x="398" y="250.86" width="9" height="5.18" fill="#a86a48" stroke="#2a2a2a" stroke-width="0.7"/>
<rect x="398" y="202.9" width="9" height="47.95" fill="#3c96f0" stroke="#2a2a2a" stroke-width="0.7"/>
<rect x="398" y="196.69" width="9" height="6.22" fill="#ffe0fa" stroke="#2a2a2a" stroke-width="0.7"/>
<rect x="398" y="195.8" width="9" height="0.89" fill="#c0b400" stroke="#2a2a2a" stroke-width="0.7"/>
<rect x="416" y="338.32" width="9" height="5.48" fill="#000000" stroke="#2a2a2a" stroke-width="0.7"/>
<rect x="416" y="302.21" width="9" height="36.11" fill="#bf80f5" stroke="#2a2a2a" stroke-width="0.7"/>
<rect x="416" y="281.64" width="9" height="20.57" fill="url(#pyx)" stroke="#2a2a2a" stroke-width="0.7"/>
<rect x="416" y="267.88" width="9" height="13.76" fill="#00f0f8" stroke="#2a2a2a" stroke-width="0.7"/>
<rect x="416" y="262.4" width="9" height="5.48" fill="#e0ffff" stroke="#2a2a2a" stroke-width="0.7"/>
<rect x="416" y="248.34" width="9" height="14.06" fill="url(#chl)" stroke="#2a2a2a" stroke-width="0.7"/>
<rect x="416" y="244.34" width="9" height="4" fill="#a86a48" stroke="#2a2a2a" stroke-width="0.7"/>
<rect x="416" y="202.02" width="9" height="42.33" fill="#3c96f0" stroke="#2a2a2a" stroke-width="0.7"/>
<rect x="416" y="196.84" width="9" height="5.18" fill="#ffe0fa" stroke="#2a2a2a" stroke-width="0.7"/>
<rect x="416" y="195.8" width="9" height="1.04" fill="#c0b400" stroke="#2a2a2a" stroke-width="0.7"/>
<rect x="434" y="337.88" width="9" height="5.92" fill="#000000" stroke="#2a2a2a" stroke-width="0.7"/>
<rect x="434" y="302.21" width="9" height="35.67" fill="#bf80f5" stroke="#2a2a2a" stroke-width="0.7"/>
<rect x="434" y="281.94" width="9" height="20.28" fill="url(#pyx)" stroke="#2a2a2a" stroke-width="0.7"/>
<rect x="434" y="268.91" width="9" height="13.02" fill="#00f0f8" stroke="#2a2a2a" stroke-width="0.7"/>
<rect x="434" y="262.7" width="9" height="6.22" fill="#e0ffff" stroke="#2a2a2a" stroke-width="0.7"/>
<rect x="434" y="249.23" width="9" height="13.47" fill="url(#chl)" stroke="#2a2a2a" stroke-width="0.7"/>
<rect x="434" y="244.34" width="9" height="4.88" fill="#a86a48" stroke="#2a2a2a" stroke-width="0.7"/>
<rect x="434" y="202.02" width="9" height="42.33" fill="#3c96f0" stroke="#2a2a2a" stroke-width="0.7"/>
<rect x="434" y="195.8" width="9" height="6.22" fill="#ffe0fa" stroke="#2a2a2a" stroke-width="0.7"/>
<rect x="452" y="338.77" width="9" height="5.03" fill="#000000" stroke="#2a2a2a" stroke-width="0.7"/>
<rect x="452" y="291.41" width="9" height="47.36" fill="#bf80f5" stroke="#2a2a2a" stroke-width="0.7"/>
<rect x="452" y="276.31" width="9" height="15.1" fill="url(#pyx)" stroke="#2a2a2a" stroke-width="0.7"/>
<rect x="452" y="257.66" width="9" height="18.65" fill="#00f0f8" stroke="#2a2a2a" stroke-width="0.7"/>
<rect x="452" y="250.26" width="9" height="7.4" fill="#e0ffff" stroke="#2a2a2a" stroke-width="0.7"/>
<rect x="452" y="236.5" width="9" height="13.76" fill="url(#chl)" stroke="#2a2a2a" stroke-width="0.7"/>
<rect x="452" y="228.95" width="9" height="7.55" fill="#a86a48" stroke="#2a2a2a" stroke-width="0.7"/>
<rect x="452" y="202.02" width="9" height="26.94" fill="#3c96f0" stroke="#2a2a2a" stroke-width="0.7"/>
<rect x="452" y="196.84" width="9" height="5.18" fill="#ffe0fa" stroke="#2a2a2a" stroke-width="0.7"/>
<rect x="452" y="195.8" width="9" height="1.04" fill="#c0b400" stroke="#2a2a2a" stroke-width="0.7"/>
<rect x="470" y="339.95" width="9" height="3.85" fill="#dcdcdc" stroke="#2a2a2a" stroke-width="0.7"/>
<rect x="470" y="305.02" width="9" height="34.93" fill="#bf80f5" stroke="#2a2a2a" stroke-width="0.7"/>
<rect x="470" y="273.94" width="9" height="31.08" fill="url(#pyx)" stroke="#2a2a2a" stroke-width="0.7"/>
<rect x="470" y="250.86" width="9" height="23.09" fill="#00f0f8" stroke="#2a2a2a" stroke-width="0.7"/>
<rect x="470" y="241.98" width="9" height="8.88" fill="url(#chl)" stroke="#2a2a2a" stroke-width="0.7"/>
<rect x="470" y="198.32" width="9" height="43.66" fill="#3c96f0" stroke="#2a2a2a" stroke-width="0.7"/>
<rect x="470" y="195.8" width="9" height="2.52" fill="#c0b400" stroke="#2a2a2a" stroke-width="0.7"/>
<rect x="488" y="337.88" width="9" height="5.92" fill="#000000" stroke="#2a2a2a" stroke-width="0.7"/>
<rect x="488" y="298.66" width="9" height="39.22" fill="#bf80f5" stroke="#2a2a2a" stroke-width="0.7"/>
<rect x="488" y="285.93" width="9" height="12.73" fill="url(#pyx)" stroke="#2a2a2a" stroke-width="0.7"/>
<rect x="488" y="264.32" width="9" height="21.61" fill="#00f0f8" stroke="#2a2a2a" stroke-width="0.7"/>
<rect x="488" y="257.66" width="9" height="6.66" fill="#e0ffff" stroke="#2a2a2a" stroke-width="0.7"/>
<rect x="488" y="242.86" width="9" height="14.8" fill="url(#chl)" stroke="#2a2a2a" stroke-width="0.7"/>
<rect x="488" y="237.24" width="9" height="5.62" fill="#a86a48" stroke="#2a2a2a" stroke-width="0.7"/>
<rect x="488" y="218.44" width="9" height="18.8" fill="#3c96f0" stroke="#2a2a2a" stroke-width="0.7"/>
<rect x="488" y="214.74" width="9" height="3.7" fill="#ffe0fa" stroke="#2a2a2a" stroke-width="0.7"/>
<rect x="488" y="207.34" width="9" height="7.4" fill="#f88c30" stroke="#2a2a2a" stroke-width="0.7"/>
<rect x="488" y="197.58" width="9" height="9.77" fill="#c0b400" stroke="#2a2a2a" stroke-width="0.7"/>
<rect x="488" y="195.8" width="9" height="1.78" fill="#e000e0" stroke="#2a2a2a" stroke-width="0.7"/>
<rect x="506" y="339.36" width="9" height="4.44" fill="#dcdcdc" stroke="#2a2a2a" stroke-width="0.7"/>
<rect x="506" y="334.33" width="9" height="5.03" fill="#000000" stroke="#2a2a2a" stroke-width="0.7"/>
<rect x="506" y="311.24" width="9" height="23.09" fill="#bf80f5" stroke="#2a2a2a" stroke-width="0.7"/>
<rect x="506" y="307.24" width="9" height="4" fill="url(#pyx)" stroke="#2a2a2a" stroke-width="0.7"/>
<rect x="506" y="296.44" width="9" height="10.8" fill="#00f0f8" stroke="#2a2a2a" stroke-width="0.7"/>
<rect x="506" y="293.04" width="9" height="3.4" fill="#e0ffff" stroke="#2a2a2a" stroke-width="0.7"/>
<rect x="506" y="267.88" width="9" height="25.16" fill="url(#chl)" stroke="#2a2a2a" stroke-width="0.7"/>
<rect x="506" y="247.16" width="9" height="20.72" fill="#3c96f0" stroke="#2a2a2a" stroke-width="0.7"/>
<rect x="506" y="245.23" width="9" height="1.92" fill="#ffe0fa" stroke="#2a2a2a" stroke-width="0.7"/>
<rect x="506" y="235.46" width="9" height="9.77" fill="#f88c30" stroke="#2a2a2a" stroke-width="0.7"/>
<rect x="506" y="203.05" width="9" height="32.41" fill="#c0b400" stroke="#2a2a2a" stroke-width="0.7"/>
<rect x="506" y="195.8" width="9" height="7.25" fill="#e000e0" stroke="#2a2a2a" stroke-width="0.7"/>
<rect x="524" y="327.22" width="9" height="16.58" fill="#dcdcdc" stroke="#2a2a2a" stroke-width="0.7"/>
<rect x="524" y="325.6" width="9" height="1.63" fill="#000000" stroke="#2a2a2a" stroke-width="0.7"/>
<rect x="524" y="320.12" width="9" height="5.48" fill="#bf80f5" stroke="#2a2a2a" stroke-width="0.7"/>
<rect x="524" y="317.75" width="9" height="2.37" fill="url(#pyx)" stroke="#2a2a2a" stroke-width="0.7"/>
<rect x="524" y="308.58" width="9" height="9.18" fill="#00f0f8" stroke="#2a2a2a" stroke-width="0.7"/>
<rect x="524" y="291.11" width="9" height="17.46" fill="url(#chl)" stroke="#2a2a2a" stroke-width="0.7"/>
<rect x="524" y="270.84" width="9" height="20.28" fill="#3c96f0" stroke="#2a2a2a" stroke-width="0.7"/>
<rect x="524" y="261.51" width="9" height="9.32" fill="#f88c30" stroke="#2a2a2a" stroke-width="0.7"/>
<rect x="524" y="208.68" width="9" height="52.84" fill="#c0b400" stroke="#2a2a2a" stroke-width="0.7"/>
<rect x="524" y="195.8" width="9" height="12.88" fill="#e000e0" stroke="#2a2a2a" stroke-width="0.7"/>
<polyline points="344,196.54 353,196.54 362,196.54 371,196.54 380,196.69 389,196.69 398,196.69 407,196.69 416,196.84 425,196.84 434,196.54 443,196.54 452,196.84 461,196.84 470,198.32 479,198.32 488,214.74 497,214.74 506,245.23 515,245.23 524,270.84 533,270.84" fill="none" stroke="#ff50ff" stroke-width="1.0"/>
<polyline points="344,319.38 353,319.38 362,290.67 371,290.67 380,262.7 389,262.7 398,250.86 407,250.86 416,244.34 425,244.34 434,244.34 443,244.34 452,228.95 461,228.95 470,241.98 479,241.98 488,237.24 497,237.24 506,267.88 515,267.88 524,291.11 533,291.11" fill="none" stroke="#ff50ff" stroke-width="1.0"/>
<rect x="330.5" y="195.8" width="216" height="148" fill="none" stroke="#8a8a8a" stroke-width="1.3"/>
<line x1="330.5" y1="343.8" x2="334.5" y2="343.8" stroke="#555" stroke-width="0.8"/>
<text x="323.9" y="346.7" font-size="8.2" text-anchor="end">0</text>
<line x1="330.5" y1="329" x2="332.3" y2="329" stroke="#555" stroke-width="0.8"/>
<line x1="330.5" y1="314.2" x2="334.5" y2="314.2" stroke="#555" stroke-width="0.8"/>
<text x="323.9" y="317.1" font-size="8.2" text-anchor="end">20</text>
<line x1="330.5" y1="299.4" x2="332.3" y2="299.4" stroke="#555" stroke-width="0.8"/>
<line x1="330.5" y1="284.6" x2="334.5" y2="284.6" stroke="#555" stroke-width="0.8"/>
<text x="323.9" y="287.5" font-size="8.2" text-anchor="end">40</text>
<line x1="330.5" y1="269.8" x2="332.3" y2="269.8" stroke="#555" stroke-width="0.8"/>
<line x1="330.5" y1="255" x2="334.5" y2="255" stroke="#555" stroke-width="0.8"/>
<text x="323.9" y="257.9" font-size="8.2" text-anchor="end">60</text>
<line x1="330.5" y1="240.2" x2="332.3" y2="240.2" stroke="#555" stroke-width="0.8"/>
<line x1="330.5" y1="225.4" x2="334.5" y2="225.4" stroke="#555" stroke-width="0.8"/>
<text x="323.9" y="228.3" font-size="8.2" text-anchor="end">80</text>
<line x1="330.5" y1="210.6" x2="332.3" y2="210.6" stroke="#555" stroke-width="0.8"/>
<line x1="330.5" y1="195.8" x2="334.5" y2="195.8" stroke="#555" stroke-width="0.8"/>
<text x="323.9" y="198.7" font-size="8.2" text-anchor="end">100</text>
<text transform="translate(351.4,349) rotate(-90)" font-size="8.2" text-anchor="end">2.70 F</text>
<text transform="translate(369.4,349) rotate(-90)" font-size="8.2" text-anchor="end">2.75 F</text>
<text transform="translate(387.4,349) rotate(-90)" font-size="8.2" text-anchor="end">2.80 F</text>
<text transform="translate(405.4,349) rotate(-90)" font-size="8.2" text-anchor="end">2.90 F</text>
<text transform="translate(423.4,349) rotate(-90)" font-size="8.2" text-anchor="end">2.95 F</text>
<text transform="translate(441.4,349) rotate(-90)" font-size="8.2" text-anchor="end">3.00 F</text>
<text transform="translate(459.4,349) rotate(-90)" font-size="8.2" text-anchor="end">3.10 F</text>
<text transform="translate(477.4,349) rotate(-90)" font-size="8.2" text-anchor="end">3.20 F</text>
<text transform="translate(495.4,349) rotate(-90)" font-size="8.2" text-anchor="end">3.30 F</text>
<text transform="translate(513.4,349) rotate(-90)" font-size="8.2" text-anchor="end">3.40 F</text>
<text transform="translate(531.4,349) rotate(-90)" font-size="8.2" text-anchor="end">3.40 S</text>
<text x="335.7" y="206.1" font-size="8.2" font-weight="bold">D</text>
<text transform="translate(303.6,269.8) rotate(-90)" font-size="8.4" text-anchor="middle">Mineral (mass %)</text>
<rect x="71.6" y="392.4" width="28.2" height="8.6" fill="#e000e0" stroke="#3a3a3a" stroke-width="0.9"/>
<text x="106.9" y="400.5" font-size="9.5">pentlandite (4.80)</text>
<rect x="71.6" y="404.7" width="28.2" height="8.6" fill="#c0b400" stroke="#3a3a3a" stroke-width="0.9"/>
<text x="106.9" y="412.8" font-size="9.5">pyrrhotite (4.61)</text>
<rect x="71.6" y="417" width="28.2" height="8.6" fill="#f88c30" stroke="#3a3a3a" stroke-width="0.9"/>
<text x="106.9" y="425.1" font-size="9.5">chalcopyrite (4.10)</text>
<rect x="71.6" y="429.3" width="28.2" height="8.6" fill="#ffe0fa" stroke="#3a3a3a" stroke-width="0.9"/>
<text x="106.9" y="437.4" font-size="9.5">quartz (2.62)</text>
<rect x="71.6" y="441.6" width="28.2" height="8.6" fill="#3c96f0" stroke="#3a3a3a" stroke-width="0.9"/>
<text x="106.9" y="449.7" font-size="9.5">feldspar (2.62)</text>
<rect x="71.6" y="453.9" width="28.2" height="8.6" fill="#a86a48" stroke="#3a3a3a" stroke-width="0.9"/>
<text x="106.9" y="462" font-size="9.5">mica (2.91)</text>
<rect x="71.6" y="466.2" width="28.2" height="8.6" fill="#60c200" stroke="#3a3a3a" stroke-width="0.9"/>
<text x="106.9" y="474.3" font-size="9.5">serpentine (2.53)</text>
<rect x="71.6" y="478.5" width="28.2" height="8.6" fill="url(#chlL)" stroke="#3a3a3a" stroke-width="0.9"/>
<text x="106.9" y="486.6" font-size="9.5">chlorite (2.65)</text>
<rect x="71.6" y="490.8" width="28.2" height="8.6" fill="#44f044" stroke="#3a3a3a" stroke-width="0.9"/>
<text x="106.9" y="498.9" font-size="9.5">talc (2.75)</text>
<rect x="359.9" y="395.3" width="28.2" height="8.8" fill="#e0ffff" stroke="#3a3a3a" stroke-width="0.9"/>
<text x="395.3" y="403.6" font-size="9.5">carbonates (2.78)</text>
<rect x="359.9" y="407.6" width="28.2" height="8.8" fill="#00f0f8" stroke="#3a3a3a" stroke-width="0.9"/>
<text x="395.3" y="415.9" font-size="9.5">epidote (3.45)</text>
<rect x="359.9" y="419.9" width="28.2" height="8.8" fill="#008010" stroke="#3a3a3a" stroke-width="0.9"/>
<text x="395.3" y="428.2" font-size="9.5">olivine (3.27)</text>
<rect x="359.9" y="432.2" width="28.2" height="8.8" fill="url(#pyxL)" stroke="#3a3a3a" stroke-width="0.9"/>
<text x="395.3" y="440.5" font-size="9.5">pyroxene (3.48)</text>
<rect x="359.9" y="444.5" width="28.2" height="8.8" fill="#bf80f5" stroke="#3a3a3a" stroke-width="0.9"/>
<text x="395.3" y="452.8" font-size="9.5">amphibole (3.04)</text>
<rect x="359.9" y="456.8" width="28.2" height="8.8" fill="#000000" stroke="#3a3a3a" stroke-width="0.9"/>
<text x="395.3" y="465.1" font-size="9.5">Fe-Ti oxides (4.85)</text>
<rect x="359.9" y="469.1" width="28.2" height="8.8" fill="#dcdcdc" stroke="#3a3a3a" stroke-width="0.9"/>
<text x="395.3" y="477.4" font-size="9.5">other</text>
</svg>
</body></html>
